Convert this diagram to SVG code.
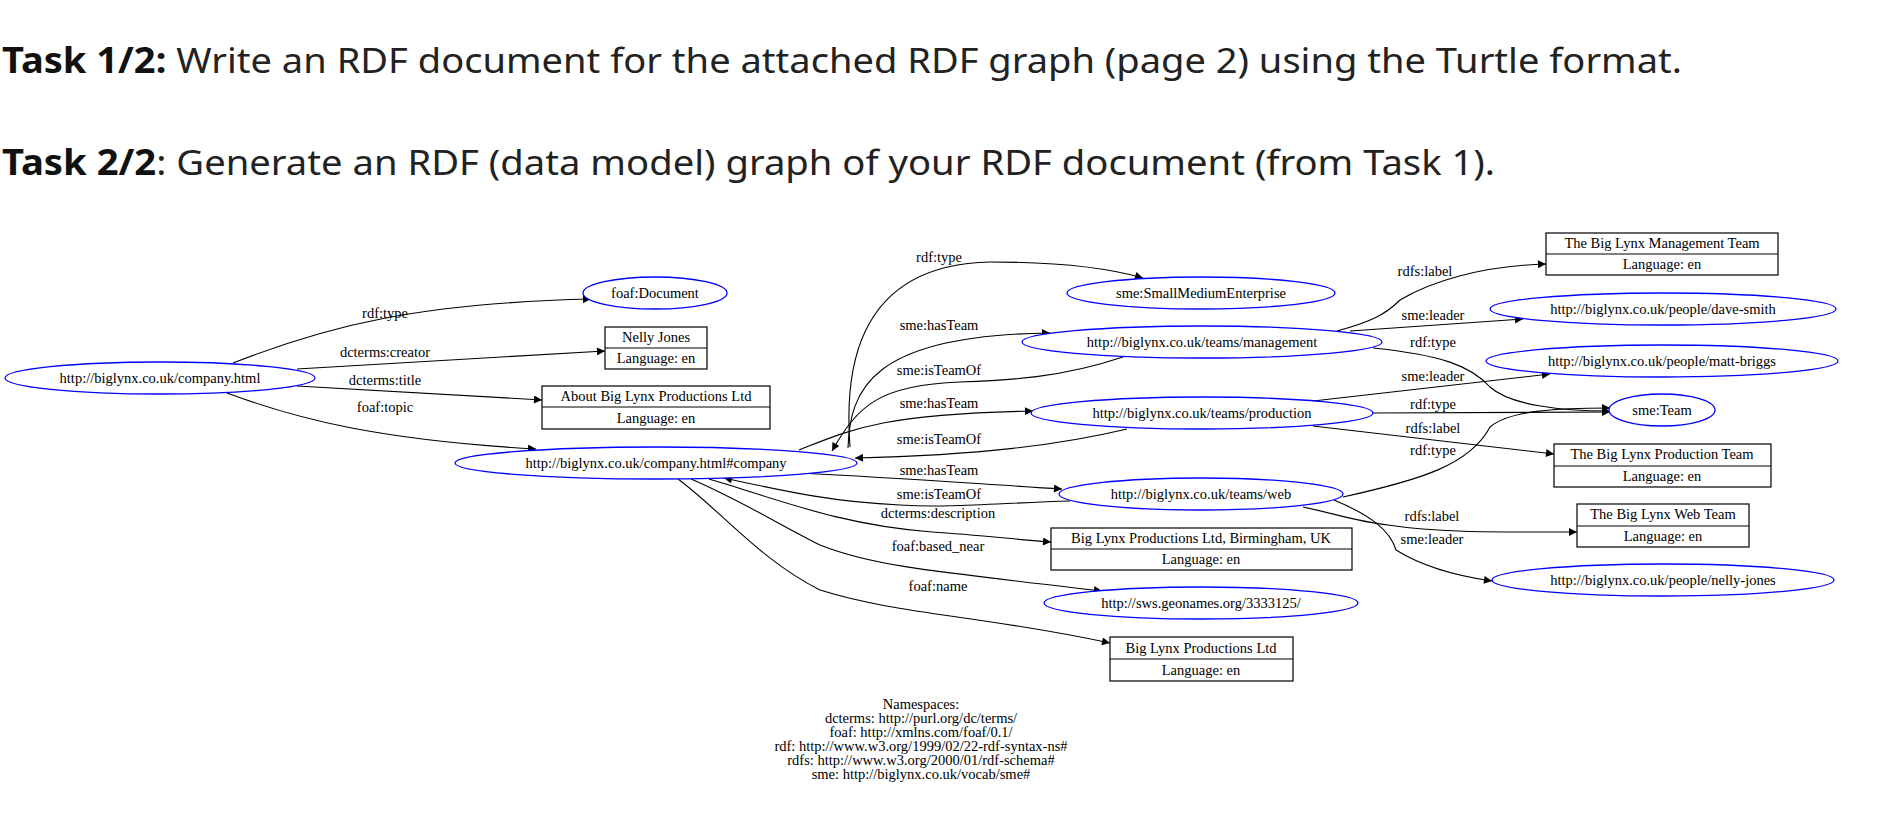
<svg xmlns="http://www.w3.org/2000/svg" width="1895" height="820" viewBox="0 0 1895 820">
<style>
.t{font-family:"Liberation Serif","Times New Roman",serif;font-size:14.5px;text-anchor:middle;fill:#000}
.h{font-family:"Noto Sans","Open Sans",sans-serif;font-size:35px;fill:#222}
.u{fill:#fff;stroke:#0000ff;stroke-width:1.3}
.l{fill:#fff;stroke:#000;stroke-width:1.2}
.e{fill:none;stroke:#000;stroke-width:1.1;marker-end:url(#a)}
</style>
<defs><marker id="a" viewBox="0 0 10 10" refX="10" refY="5" markerWidth="10" markerHeight="8" markerUnits="userSpaceOnUse" orient="auto"><path d="M0,0L10,5L0,10z" fill="#000"/></marker></defs>
<rect width="1895" height="820" fill="#fff"/>
<text class="h" x="2" y="73" textLength="1680" lengthAdjust="spacingAndGlyphs"><tspan font-weight="bold" fill="#111">Task 1/2:</tspan> Write an RDF document for the attached RDF graph (page 2) using the Turtle format.</text>
<text class="h" x="2" y="175" textLength="1493" lengthAdjust="spacingAndGlyphs"><tspan font-weight="bold" fill="#111">Task 2/2</tspan>: Generate an RDF (data model) graph of your RDF document (from Task 1).</text>
<g id="connectors">
<path class="e" d="M233,363 C330,325 420,303 591,299"/><text class="t" x="385" y="318">rdf:type</text>
<path class="e" d="M297,369 L605,351"/><text class="t" x="385" y="357">dcterms:creator</text>
<path class="e" d="M297,386 L542,400"/><text class="t" x="385" y="385">dcterms:title</text>
<path class="e" d="M227,393 C300,420 380,440 536,449"/><text class="t" x="385" y="412">foaf:topic</text>
<path class="e" d="M850,447 C845,380 850,265 990,262 C1070,262 1115,270 1143,278"/><text class="t" x="939" y="262">rdf:type</text>
<path class="e" d="M848,448 C850,390 870,335 1050,333"/><text class="t" x="939" y="330">sme:hasTeam</text>
<path class="e" d="M1123,357 C1060,378 1010,380 960,382 C880,385 858,405 832,451"/><text class="t" x="939" y="375">sme:isTeamOf</text>
<path class="e" d="M799,450 C850,430 880,414 1033,411"/><text class="t" x="939" y="408">sme:hasTeam</text>
<path class="e" d="M1127,429 C1060,445 980,455 855,458"/><text class="t" x="939" y="444">sme:isTeamOf</text>
<path class="e" d="M800,473 C900,478 980,484 1062,489"/><text class="t" x="939" y="475">sme:hasTeam</text>
<path class="e" d="M1070,501 C1000,503 950,508 900,505 C830,502 780,490 724,478"/><text class="t" x="939" y="499">sme:isTeamOf</text>
<path class="e" d="M1337,331 C1370,322 1385,315 1400,300 C1430,282 1480,266 1546,264"/><text class="t" x="1425" y="276">rdfs:label</text>
<path class="e" d="M1350,331 L1523,319"/><text class="t" x="1433" y="320">sme:leader</text>
<path class="e" d="M1373,348 C1440,355 1470,365 1490,387 C1510,405 1560,411 1610,411"/><text class="t" x="1433" y="347">rdf:type</text>
<path class="e" d="M1313,401 L1550,374"/><text class="t" x="1433" y="381">sme:leader</text>
<path class="e" d="M1373,413 L1610,412"/><text class="t" x="1433" y="409">rdf:type</text>
<path class="e" d="M1313,426 L1554,454"/><text class="t" x="1433" y="433">rdfs:label</text>
<path class="e" d="M1343,497 C1420,480 1470,465 1490,427 C1510,410 1560,408 1610,408"/><text class="t" x="1433" y="455">rdf:type</text>
<path class="e" d="M1303,507 C1340,515 1360,522 1388,525 C1440,533 1500,532 1577,532"/><text class="t" x="1432" y="521">rdfs:label</text>
<path class="e" d="M1334,500 C1370,515 1390,530 1396,550 C1420,565 1450,575 1492,581"/><text class="t" x="1432" y="544">sme:leader</text>
<path class="e" d="M709,479 C780,500 840,525 932,532 C980,535 1020,540 1051,542"/><text class="t" x="938" y="518">dcterms:description</text>
<path class="e" d="M691,479 C740,500 780,525 820,545 C870,565 920,570 1102,591"/><text class="t" x="938" y="551">foaf:based_near</text>
<path class="e" d="M678,479 C720,510 760,560 820,590 C900,615 980,615 1110,643"/><text class="t" x="938" y="591">foaf:name</text>
</g>
<g id="n-company-html"><ellipse class="u" cx="160" cy="378" rx="155" ry="16"/><text class="t" x="160" y="383">http://biglynx.co.uk/company.html</text></g>
<g id="n-foaf-document"><ellipse class="u" cx="655" cy="293" rx="72" ry="16"/><text class="t" x="655" y="298">foaf:Document</text></g>
<g id="n-nelly-jones-lit"><rect class="l" x="605" y="327" width="102" height="42"/><line x1="605" y1="348" x2="707" y2="348" stroke="#000"/><text class="t" x="656" y="342">Nelly Jones</text><text class="t" x="656" y="363">Language: en</text></g>
<g id="n-about"><rect class="l" x="542" y="386" width="228" height="43"/><line x1="542" y1="407" x2="770" y2="407" stroke="#000"/><text class="t" x="656" y="401">About Big Lynx Productions Ltd</text><text class="t" x="656" y="423">Language: en</text></g>
<g id="n-company"><ellipse class="u" cx="656" cy="463" rx="201" ry="16"/><text class="t" x="656" y="468">http://biglynx.co.uk/company.html#company</text></g>
<g id="n-sme"><ellipse class="u" cx="1201" cy="293" rx="134" ry="16"/><text class="t" x="1201" y="298">sme:SmallMediumEnterprise</text></g>
<g id="n-mgmt-label"><rect class="l" x="1546" y="233" width="232" height="42"/><line x1="1546" y1="254" x2="1778" y2="254" stroke="#000"/><text class="t" x="1662" y="248">The Big Lynx Management Team</text><text class="t" x="1662" y="269">Language: en</text></g>
<g id="n-management"><ellipse class="u" cx="1202" cy="342" rx="180" ry="16"/><text class="t" x="1202" y="347">http://biglynx.co.uk/teams/management</text></g>
<g id="n-dave"><ellipse class="u" cx="1663" cy="309" rx="173" ry="16"/><text class="t" x="1663" y="314">http://biglynx.co.uk/people/dave-smith</text></g>
<g id="n-matt"><ellipse class="u" cx="1662" cy="361" rx="176" ry="16"/><text class="t" x="1662" y="366">http://biglynx.co.uk/people/matt-briggs</text></g>
<g id="n-team"><ellipse class="u" cx="1662" cy="410" rx="53" ry="16"/><text class="t" x="1662" y="415">sme:Team</text></g>
<g id="n-production"><ellipse class="u" cx="1202" cy="413" rx="171" ry="16"/><text class="t" x="1202" y="418">http://biglynx.co.uk/teams/production</text></g>
<g id="n-prod-label"><rect class="l" x="1554" y="444" width="217" height="43"/><line x1="1554" y1="466" x2="1771" y2="466" stroke="#000"/><text class="t" x="1662" y="459">The Big Lynx Production Team</text><text class="t" x="1662" y="481">Language: en</text></g>
<g id="n-web"><ellipse class="u" cx="1201" cy="494" rx="142" ry="16"/><text class="t" x="1201" y="499">http://biglynx.co.uk/teams/web</text></g>
<g id="n-web-label"><rect class="l" x="1577" y="504" width="172" height="43"/><line x1="1577" y1="526" x2="1749" y2="526" stroke="#000"/><text class="t" x="1663" y="519">The Big Lynx Web Team</text><text class="t" x="1663" y="541">Language: en</text></g>
<g id="n-nelly"><ellipse class="u" cx="1663" cy="580" rx="171" ry="16"/><text class="t" x="1663" y="585">http://biglynx.co.uk/people/nelly-jones</text></g>
<g id="n-desc"><rect class="l" x="1051" y="528" width="301" height="42"/><line x1="1051" y1="549" x2="1352" y2="549" stroke="#000"/><text class="t" x="1201" y="543">Big Lynx Productions Ltd, Birmingham, UK</text><text class="t" x="1201" y="564">Language: en</text></g>
<g id="n-geonames"><ellipse class="u" cx="1201" cy="603" rx="157" ry="16"/><text class="t" x="1201" y="608">http://sws.geonames.org/3333125/</text></g>
<g id="n-name"><rect class="l" x="1110" y="637" width="183" height="44"/><line x1="1110" y1="659" x2="1293" y2="659" stroke="#000"/><text class="t" x="1201" y="653">Big Lynx Productions Ltd</text><text class="t" x="1201" y="675">Language: en</text></g>
<g id="namespaces">
<text class="t" x="921" y="709">Namespaces:</text>
<text class="t" x="921" y="723">dcterms: http://purl.org/dc/terms/</text>
<text class="t" x="921" y="737">foaf: http://xmlns.com/foaf/0.1/</text>
<text class="t" x="921" y="751">rdf: http://www.w3.org/1999/02/22-rdf-syntax-ns#</text>
<text class="t" x="921" y="765">rdfs: http://www.w3.org/2000/01/rdf-schema#</text>
<text class="t" x="921" y="779">sme: http://biglynx.co.uk/vocab/sme#</text>
</g>
</svg>
